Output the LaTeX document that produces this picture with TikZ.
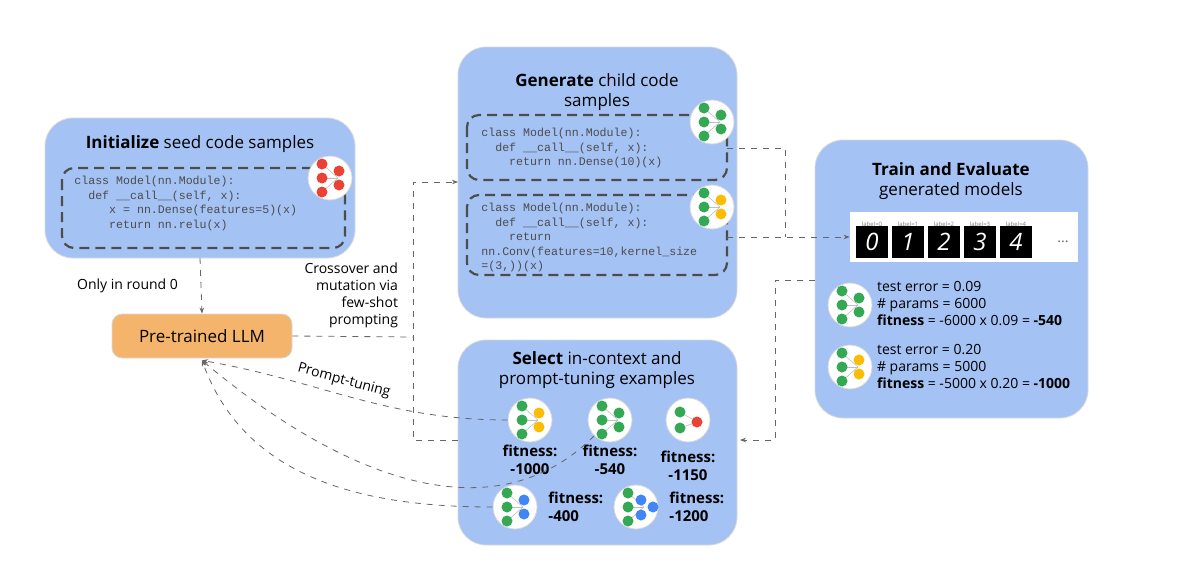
\documentclass[tikz,border=0pt]{standalone}
\usepackage{fontspec}
\setmainfont{Open Sans}
\setmonofont{Liberation Mono}
\usetikzlibrary{positioning}
\usetikzlibrary{arrows.meta}
\usetikzlibrary{calc}

\definecolor{stepblue}{HTML}{A4C2F4}
\definecolor{llmorange}{HTML}{F4B46C}
\definecolor{dotgreen}{HTML}{34A853}
\definecolor{dotyellow}{HTML}{FBBC04}
\definecolor{dotred}{HTML}{EA4335}
\definecolor{dotblue}{HTML}{4285F4}

\tikzset{
  stage/.style={draw=black!15, fill=stepblue, rounded corners=14pt},
  code/.style={draw=black!70, dashed, line width=1.1pt, dash pattern=on 5pt off 3pt, rounded corners=6pt},
  flow/.style={draw=black!60, dashed, -{Stealth[length=3pt]}},
  icon/.style={circle, draw=black!15, fill=white, minimum size=22pt, inner sep=0pt},
  dot/.style={circle, inner sep=0pt, minimum size=5.5pt},
  ttl/.style={align=center, font=\fontsize{8.5}{10}\selectfont},
  lbl/.style={font=\fontsize{7}{8.5}\selectfont},
  fit/.style={font=\fontsize{7.5}{9}\bfseries, align=center},
  cd/.style={align=left, font=\ttfamily\fontsize{5.8}{7.2}\selectfont, inner sep=0pt, text=black!70},
}

% network icon: name, position, left colour, right colour, right count (1,2,3)
\newcommand\neticon[5]{%
  \node[icon] (#1) at (#2) {};
  \ifnum#5=1
    \foreach \yy in {-8,8} \draw[black!25, line width=0.3pt] ($(#1)+(-8,\yy)$) -- ($(#1)+(9,2)$);
    \foreach \yy in {-8,8} \node[dot, fill=#3] at ($(#1)+(-8,\yy)$) {};
  \else
    \foreach \yy in {-14,0,14} \draw[black!25, line width=0.3pt] ($(#1)+(-8,\yy)$) -- ($(#1)+(8,0)$);
    \foreach \yy in {-14,0,14} \node[dot, fill=#3] at ($(#1)+(-8,\yy)$) {};
  \fi
  \ifcase#5\or
    \node[dot, fill=#4] at ($(#1)+(9,2)$) {};
  \or
    \node[dot, fill=#4] at ($(#1)+(9,-7)$) {};
    \node[dot, fill=#4] at ($(#1)+(9,7)$) {};
  \or
    \node[dot, fill=#4] at ($(#1)+(5,-7)$) {};
    \node[dot, fill=#4] at ($(#1)+(5,8)$) {};
    \node[dot, fill=#4] at ($(#1)+(17,0)$) {};
  \fi}

\begin{document}
\begin{tikzpicture}[x=0.5pt, y=-0.5pt]
  \useasboundingbox (0,0) rectangle (1200,573);

  % the four steps
  \draw[stage] (45,118) rectangle (355,258);
  \draw[stage] (458,47) rectangle (737,318);
  \draw[stage] (815,140) rectangle (1088,418);
  \draw[stage] (458,340) rectangle (737,545);
  \node[draw=black!15, fill=llmorange, rounded corners=5pt, minimum width=90pt, minimum height=22pt,
        font=\fontsize{8.5}{10}\selectfont] (llm) at (202,336) {Pre-trained LLM};

  % titles
  \node[ttl] (initT) at (200,144) {\textbf{Initialize} seed code samples};
  \node[ttl] (genT) at (597,92) {\textbf{Generate} child code\\samples};
  \node[ttl] (trainT) at (951,181) {\textbf{Train and Evaluate}\\generated models};
  \node[ttl] (selT) at (597,370) {\textbf{Select} in-context and\\prompt-tuning examples};

  % code samples
  \draw[code] (62,168) rectangle (345,248);
  \node[cd, anchor=north west] (initC) at (74,176) {class Model(nn.Module):\\
  \ \ def \_\_call\_\_(self, x):\\
  \ \ \ \ \ x = nn.Dense(features=5)(x)\\
  \ \ \ \ \ return nn.relu(x)};
  \draw[code] (467,115) rectangle (727,180);
  \node[cd, anchor=north west] (genA) at (481,128) {class Model(nn.Module):\\
  \ \ def \_\_call\_\_(self, x):\\
  \ \ \ \ return nn.Dense(10)(x)};
  \draw[code] (467,195) rectangle (727,275);
  \node[cd, anchor=north west] (genB) at (481,203) {class Model(nn.Module):\\
  \ \ def \_\_call\_\_(self, x):\\
  \ \ \ \ return\\
  nn.Conv(features=10,kernel\_size\\
  =(3,))(x)};

  % network icons
  \neticon{initN}{330,178}{dotred}{dotred}{2}
  \neticon{genAN}{712,122}{dotgreen}{dotgreen}{2}
  \neticon{genBN}{712,207}{dotgreen}{dotyellow}{2}
  \neticon{trA}{850,305}{dotgreen}{dotgreen}{2}
  \neticon{trB}{850,367}{dotgreen}{dotyellow}{2}
  \neticon{selA}{530,420}{dotgreen}{dotyellow}{2}
  \neticon{selB}{610,420}{dotgreen}{dotgreen}{2}
  \neticon{selC}{688,420}{dotgreen}{dotred}{1}
  \neticon{selD}{515,507}{dotgreen}{dotblue}{2}
  \neticon{selE}{636,507}{dotgreen}{dotblue}{3}

  % mnist strip
  \node[fill=white, minimum width=114pt, minimum height=25pt, inner sep=0pt] (mnist) at (964,237) {};
  \foreach \d in {0,...,4} {
    \node[fill=black, minimum size=16pt, inner sep=0pt, text=white, font=\fontsize{12}{12}\itshape] (dig\d) at (872+\d*36,242) {\d};
    \node[font=\fontsize{3}{3}\selectfont, text=black!50] at (872+\d*36,224) {label=\d};
  }
  \node[lbl, text=black!60] (more) at (1063,242) {...};

  % results
  \node[lbl, align=left, anchor=west] (resA) at (870,304) {test error = 0.09\\\# params = 6000\\\textbf{fitness} = -6000 x 0.09 = \textbf{-540}};
  \node[lbl, align=left, anchor=west] (resB) at (870,367) {test error = 0.20\\\# params = 5000\\\textbf{fitness} = -5000 x 0.20 = \textbf{-1000}};

  % fitness labels
  \node[fit, below=-2pt of selA] {fitness:\\-1000};
  \node[fit, below=-2pt of selB] {fitness:\\-540};
  \node[fit, below=1pt of selC] {fitness:\\-1150};
  \node[fit, align=left, right=2pt of selD] {fitness:\\-400};
  \node[fit, align=left, right=2pt of selE] {fitness:\\-1200};

  % connectors
  \coordinate (j1) at (413,337);
  \coordinate (j2) at (413,182);
  \coordinate (j3) at (413,440);
  \coordinate (k1) at (785,148);
  \coordinate (k2) at (785,237);
  \coordinate (m1) at (775,280);
  \coordinate (m2) at (775,440);
  \draw[flow] (200,258) -- node[lbl, left=8pt, text=black] {Only in round 0} (llm.north);
  \draw[flow, -] (llm.east) -- (j1);
  \draw[flow] (458,440) -- (j3) -- (j2) -- (458,182);
  \node[lbl, align=right, anchor=east] (xover) at (405,295) {Crossover and\\mutation via\\few-shot\\prompting};
  \draw[flow, -] (727,148) -- (k1) -- (k2);
  \draw[flow] (727,237) -- (mnist.west);
  \draw[flow] (815,280) -- (m1) -- (m2) -- (740,440);
  \draw[flow] (selA.west) to[out=180, in=-10] node[lbl, pos=0.55, above, sloped, text=black] {Prompt-tuning} ($(llm.south)+(0,2)$);
  \draw[flow] (selB.south west) to[out=225, in=-40] ($(llm.south)+(0,2)$);
  \draw[flow] (selD.west) to[out=180, in=-70] ($(llm.south)+(0,2)$);
\end{tikzpicture}
\end{document}
